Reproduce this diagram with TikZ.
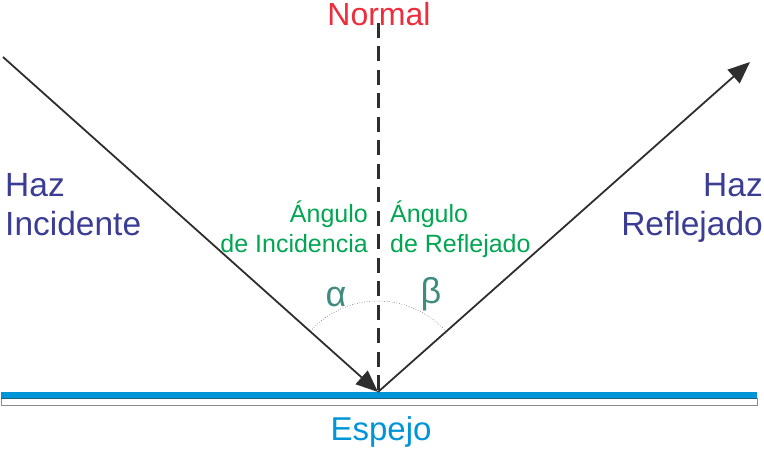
\documentclass[tikz,border=0pt]{standalone}
\usepackage{fontspec}
\setmainfont{Liberation Sans}
\usetikzlibrary{arrows.meta}

\definecolor{raygray}{HTML}{2E2E2E}
\definecolor{hazblue}{HTML}{3B3D95}
\definecolor{normalred}{HTML}{EE2D3A}
\definecolor{anglegreen}{HTML}{00A651}
\definecolor{greekteal}{HTML}{3F8C7E}
\definecolor{mirrorblue}{HTML}{0094D8}
\definecolor{mirroredge}{HTML}{1E6480}
\definecolor{glassgray}{HTML}{8C8C8C}

\tikzstyle{ray} = [draw=raygray, line width=1.8pt]
\tikzstyle{tip} = [-{Triangle[length=22pt,width=18pt]}]
\tikzstyle{normalline} = [draw=raygray, line width=3pt, dash pattern=on 15pt off 8.5pt]
\tikzstyle{anglearc} = [draw=raygray, line width=0.5pt, dotted]
\tikzstyle{beam} = [text=hazblue, font=\fontsize{33.5}{39}\selectfont]
\tikzstyle{angletext} = [text=anglegreen, font=\fontsize{25}{29.5}\selectfont]
\tikzstyle{greek} = [text=greekteal, font=\fontsize{36}{40}\selectfont]

\begin{document}
\begin{tikzpicture}[x=1pt,y=-1pt,every node/.style={inner sep=0pt}]
			\useasboundingbox (0,0) rectangle (764,449);
			% espejo
			\draw[glassgray, line width=1pt, fill=white] (1,398.5) rectangle (757,405.5);
			\fill[mirrorblue] (1,392.5) rectangle (757,398.5);
			\draw[mirroredge, line width=0.8pt] (1,398.3) -- (757,398.3);
			\coordinate (hit) at (378,392);
			\coordinate (src) at (3,57);
			\coordinate (dst) at (750,62);
			\coordinate (ntop) at (378,23);
			\draw[normalline] (ntop) -- (hit);
			\draw[ray,tip] (src) -- (hit);
			\draw[ray,tip] (hit) -- (dst);
			\draw[anglearc] (hit) ++(-41.6:91) arc[start angle=-41.6, end angle=-138.2, radius=91];
			% textos
			\node[text=normalred, font=\fontsize{32}{38}\selectfont, anchor=base] (normal) at (379,26) {Normal};
			\node[text=mirrorblue, font=\fontsize{33}{38}\selectfont, anchor=base] (espejo) at (381,440) {Espejo};
			\node[beam, anchor=north west, align=left] (hazin) at (5,173) {Haz\\Incidente};
			\node[beam, anchor=north east, align=right] (hazre) at (763,173) {Haz\\Reflejado};
			\node[angletext, anchor=north east, align=right] (angin) at (368,201) {Ángulo\\de Incidencia};
			\node[angletext, anchor=north west, align=left] (angre) at (390,201) {Ángulo\\de Reflejado};
			\node[greek] (alpha) at (336,297) {α};
			\node[greek] (beta) at (431,294) {β};
		\end{tikzpicture}
\end{document}
